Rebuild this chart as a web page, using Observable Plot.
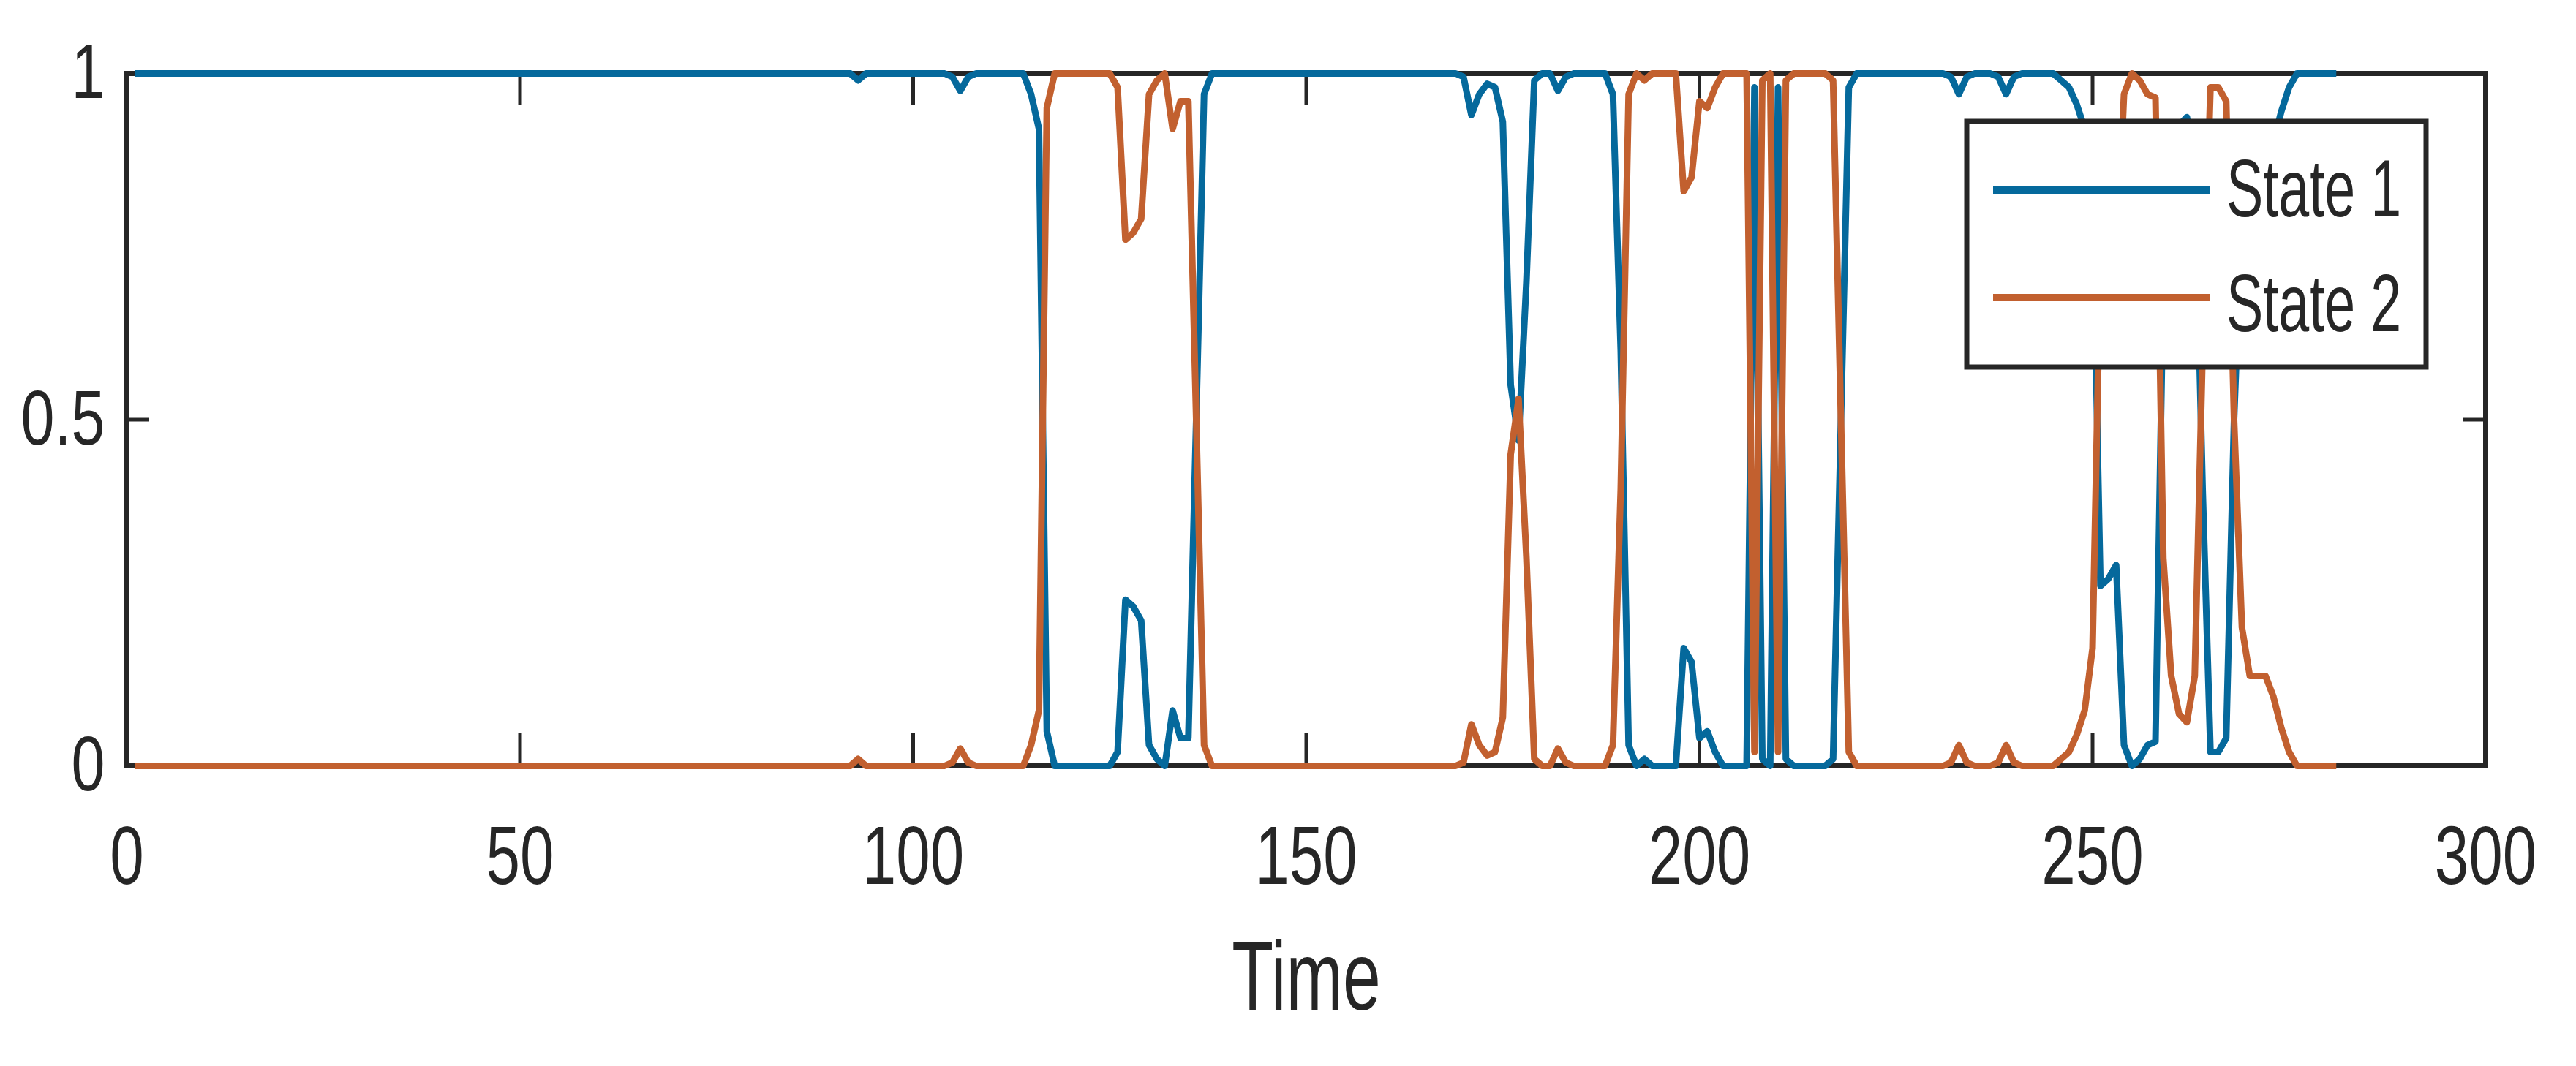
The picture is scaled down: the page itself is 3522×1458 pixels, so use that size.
<!DOCTYPE html>
<html>
<head>
<meta charset="utf-8">
<script src="https://cdn.jsdelivr.net/npm/d3@7"></script>
<script src="https://cdn.jsdelivr.net/npm/@observablehq/plot@0.6"></script>
<style>
  html, body { margin: 0; padding: 0; background: #ffffff; }
  #chart { width: 3522px; height: 1458px; overflow: hidden; }
  #chart svg { display: block; }
</style>
</head>
<body>
<div id="chart"></div>
<script>
// ---- data, one value per time step starting at t = 1 ----
const seriesNames = ["State 1", "State 2"];
const seriesColors = ["#05699c", "#c2602f"];
const xTicks = [0, 50, 100, 150, 200, 250, 300];
const yTicks = [0, 0.5, 1];
const xLabel = "Time";

const state1 = [
  1,1,1,1,1,1,1,1,1,1,
  1,1,1,1,1,1,1,1,1,1,
  1,1,1,1,1,1,1,1,1,1,
  1,1,1,1,1,1,1,1,1,1,
  1,1,1,1,1,1,1,1,1,1,
  1,1,1,1,1,1,1,1,1,1,
  1,1,1,1,1,1,1,1,1,1,
  1,1,1,1,1,1,1,1,1,1,
  1,1,1,1,1,1,1,1,1,1,
  1,1,0.99,1,1,1,1,1,1,1,
  1,1,1,1,0.995,0.975,0.995,1,1,1,
  1,1,1,1,0.97,0.92,0.05,0,0,0,
  0,0,0,0,0,0.02,0.24,0.23,0.21,0.03,
  0.01,0,0.08,0.04,0.04,0.5,0.97,1,1,1,
  1,1,1,1,1,1,1,1,1,1,
  1,1,1,1,1,1,1,1,1,1,
  1,1,1,1,1,1,1,1,1,0.995,
  0.94,0.97,0.985,0.98,0.93,0.55,0.47,0.7,0.99,1,
  1,0.975,0.995,1,1,1,1,1,0.97,0.6,
  0.03,0,0.01,0,0,0,0,0.17,0.15,0.04,
  0.05,0.02,0,0,0,0,0.98,0.01,0,0.98,
  0.01,0,0,0,0,0,0.01,0.5,0.98,1,
  1,1,1,1,1,1,1,1,1,1,
  1,0.995,0.97,0.995,1,1,1,0.995,0.97,0.995,
  1,1,1,1,1,0.99,0.98,0.955,0.92,0.83,
  0.26,0.27,0.29,0.03,0,0.01,0.03,0.035,0.7,0.87,
  0.925,0.937,0.87,0.4,0.02,0.02,0.04,0.5,0.8,0.87,
  0.87,0.87,0.9,0.945,0.98,1,1,1,1,1,
  1
];

const state2 = [
  0,0,0,0,0,0,0,0,0,0,
  0,0,0,0,0,0,0,0,0,0,
  0,0,0,0,0,0,0,0,0,0,
  0,0,0,0,0,0,0,0,0,0,
  0,0,0,0,0,0,0,0,0,0,
  0,0,0,0,0,0,0,0,0,0,
  0,0,0,0,0,0,0,0,0,0,
  0,0,0,0,0,0,0,0,0,0,
  0,0,0,0,0,0,0,0,0,0,
  0,0,0.01,0,0,0,0,0,0,0,
  0,0,0,0,0.005,0.025,0.005,0,0,0,
  0,0,0,0,0.03,0.08,0.95,1,1,1,
  1,1,1,1,1,0.98,0.76,0.77,0.79,0.97,
  0.99,1,0.92,0.96,0.96,0.5,0.03,0,0,0,
  0,0,0,0,0,0,0,0,0,0,
  0,0,0,0,0,0,0,0,0,0,
  0,0,0,0,0,0,0,0,0,0.005,
  0.06,0.03,0.015,0.02,0.07,0.45,0.53,0.3,0.01,0,
  0,0.025,0.005,0,0,0,0,0,0.03,0.4,
  0.97,1,0.99,1,1,1,1,0.83,0.85,0.96,
  0.95,0.98,1,1,1,1,0.02,0.99,1,0.02,
  0.99,1,1,1,1,1,0.99,0.5,0.02,0,
  0,0,0,0,0,0,0,0,0,0,
  0,0.005,0.03,0.005,0,0,0,0.005,0.03,0.005,
  0,0,0,0,0,0.01,0.02,0.045,0.08,0.17,
  0.74,0.73,0.71,0.97,1,0.99,0.97,0.965,0.3,0.13,
  0.075,0.063,0.13,0.6,0.98,0.98,0.96,0.5,0.2,0.13,
  0.13,0.13,0.1,0.055,0.02,0,0,0,0,0,
  0
];

// ---- layout ----
const W = 3522, H = 1458;
const mL = 173, mR = 124, mT = 100, mB = 411;
const frameH = H - mT - mB;
const frameW = W - mL - mR;
const ink = "#262626";
const font = "'Liberation Sans', Arial, Helvetica, sans-serif";

const rows = [];
state1.forEach((v, i) => rows.push({t: i + 1, v, s: seriesNames[0]}));
state2.forEach((v, i) => rows.push({t: i + 1, v, s: seriesNames[1]}));

const chart = Plot.plot({
  width: W,
  height: H,
  marginLeft: mL, marginRight: mR, marginTop: mT, marginBottom: mB,
  style: {fontFamily: font, background: "#ffffff", color: ink, overflow: "visible"},
  x: {domain: [0, 300], ticks: xTicks},
  y: {domain: [0, 1], ticks: yTicks},
  color: {domain: seriesNames, range: seriesColors},
  marks: [
    Plot.frame({stroke: ink, strokeWidth: 7}),
    // inward ticks on all four sides
    Plot.tickX(xTicks, {x: d => d, stroke: ink, strokeWidth: 5, insetTop: frameH - 44}),
    Plot.tickX(xTicks, {x: d => d, stroke: ink, strokeWidth: 5, insetBottom: frameH - 44}),
    Plot.tickY(yTicks, {y: d => d, stroke: ink, strokeWidth: 5, insetRight: frameW - 31}),
    Plot.tickY(yTicks, {y: d => d, stroke: ink, strokeWidth: 5, insetLeft: frameW - 31}),
    Plot.axisX(xTicks, {anchor: "bottom", tickSize: 0, tickPadding: 81, fontSize: 113, tickFormat: d => String(d), label: null, fill: ink}),
    Plot.axisY(yTicks, {anchor: "left", tickSize: 0, tickPadding: 30, fontSize: 106, tickFormat: d => String(d), label: null, fill: ink}),
    Plot.text([xLabel], {frameAnchor: "bottom", dy: 333, lineAnchor: "bottom", fontSize: 133, fill: ink, text: d => d}),
    Plot.line(rows, {x: "t", y: "v", z: "s", stroke: "s", strokeWidth: 9, strokeLinejoin: "round", strokeLinecap: "butt"})
  ]
});

document.getElementById("chart").appendChild(chart);

// ---- legend (inside the plot, upper right) ----
const svg = d3.select(chart);
const lg = svg.append("g").attr("class", "legend");
lg.append("rect")
  .attr("x", 2689).attr("y", 166).attr("width", 628).attr("height", 336)
  .attr("fill", "#ffffff").attr("stroke", ink).attr("stroke-width", 7);
const legendRows = [{y: 260, base: 296}, {y: 407, base: 453}];
seriesNames.forEach((name, i) => {
  lg.append("line")
    .attr("x1", 2725).attr("x2", 3022)
    .attr("y1", legendRows[i].y).attr("y2", legendRows[i].y)
    .attr("stroke", seriesColors[i]).attr("stroke-width", 10);
  lg.append("text")
    .attr("transform", `translate(3044,${legendRows[i].base}) scale(0.68,1)`)
    .attr("text-anchor", "start")
    .attr("font-size", 111)
    .attr("fill", ink)
    .attr("font-family", font)
    .text(name);
});

// ---- narrow the Plot texts horizontally (the reference figure is stretched vertically) ----
svg.selectAll("g[aria-label='x-axis tick label'] text, g[aria-label='y-axis tick label'] text, g[aria-label='text'] text")
  .each(function () {
    const el = d3.select(this);
    const label = d3.select(this.parentNode).attr("aria-label");
    const k = label === "text" ? 0.7 : label === "y-axis tick label" ? 0.78 : 0.74;
    const tr = el.attr("transform") || "";
    el.attr("transform", tr + ` scale(${k},1)`);
  });
</script>
</body>
</html>
